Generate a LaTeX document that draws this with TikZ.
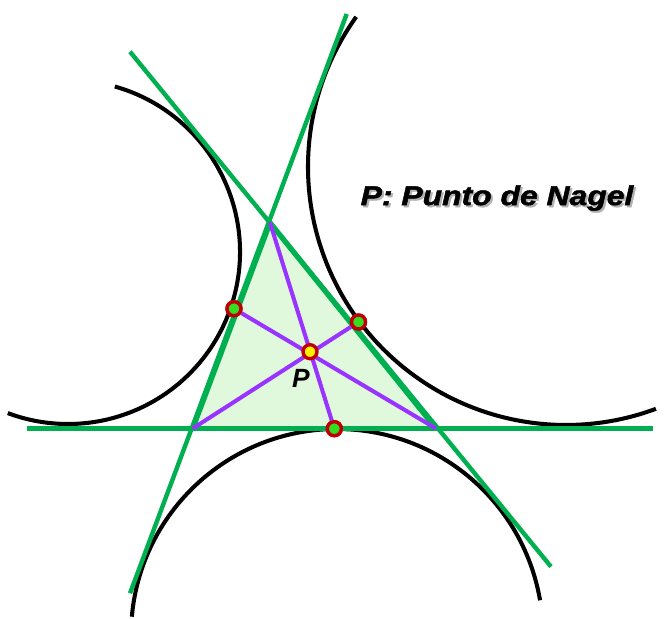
\documentclass[tikz,border=0pt]{standalone}
\usepackage{fontspec}
\setmainfont{Liberation Sans}
\newfontfamily\heavyfont{Liberation Sans}[UprightFont={* Bold Italic}, FakeBold=1.6]
\usetikzlibrary{calc}
\definecolor{gline}{RGB}{0,176,80}
\definecolor{gfill}{RGB}{224,249,220}
\definecolor{cev}{RGB}{153,51,255}
\definecolor{dotred}{RGB}{192,0,0}
\definecolor{dotgreen}{RGB}{51,221,34}
\tikzset{line/.style={draw, line width=2.5pt, gline}}

\begin{document}
\begin{tikzpicture}[x=0.02cm, y=-0.02cm]
\tikzstyle{excircle} = [draw, line width=2.3pt, black]
\tikzstyle{cevian} = [draw, line width=2.3pt, cev]
\tikzstyle{touch} = [circle, draw=dotred, fill=dotgreen, line width=1.9pt, inner sep=0pt, minimum size=0.28cm]
\tikzstyle{nagel} = [touch, fill=yellow]
\tikzstyle{Text} = [inner sep=0pt, font=\bfseries\itshape\fontsize{15}{17}\selectfont]
\tikzstyle{title} = [inner sep=0pt, font=\heavyfont\fontsize{15.5}{18}\selectfont]

\useasboundingbox (0,0) rectangle (665,618);

% triangle and excentres
\coordinate (A) at (270,222.7);
\coordinate (B) at (192.7,428.5);
\coordinate (C) at (436,428.5);
\coordinate (Ia) at (337,635);
\coordinate (Ib) at (566,167);
\coordinate (Ic) at (68,252);

% free ends of the side lines
\coordinate (bc1) at (27,428.5);
\coordinate (bc2) at (653,428.5);
\coordinate (ab1) at (130,593.3);
\coordinate (ab2) at (346.7,14);
\coordinate (ac1) at (130,51.7);
\coordinate (ac2) at (551,566.7);

\fill [gfill] (A) -- (B) -- (C) -- cycle;

\draw [excircle] (Ic) ++(-74.2:172) arc [start angle=-74.2, end angle=110.5, radius=172];
\draw [excircle] (Ib) ++(215.6:258) arc [start angle=215.6, end angle=69.6, radius=258];
\draw [excircle] (Ia) ++(185.1:206) arc [start angle=185.1, end angle=350.3, radius=206];

\path [line] (bc1) -- (bc2);
\path [line] (ab1) -- (ab2);
\path [line] (ac1) -- (ac2);
\path [line, line width=3pt, line join=round] (B) -- (A) -- (C);

\node [touch] (D) at (334.3,428.7) {};
\node [touch] (E) at (358.5,322) {};
\node [touch] (F) at (234,308.7) {};

\path [cevian] (A) -- (D);
\path [cevian] (B) -- (E);
\path [cevian] (C) -- (F);

\node [touch] at (D) {};
\node [touch] at (E) {};
\node [touch] at (F) {};
\node [nagel] (P) at (310,351.7) {};
\node [Text] (lblP) at (301,378) {P};

\node [title, text=black!30] (shadow) at (499,200) {\scalebox{1.17}[1]{P: Punto de Nagel}};
\node [title] (title) at (497,198) {\scalebox{1.17}[1]{P: Punto de Nagel}};

\end{tikzpicture}
\end{document}
